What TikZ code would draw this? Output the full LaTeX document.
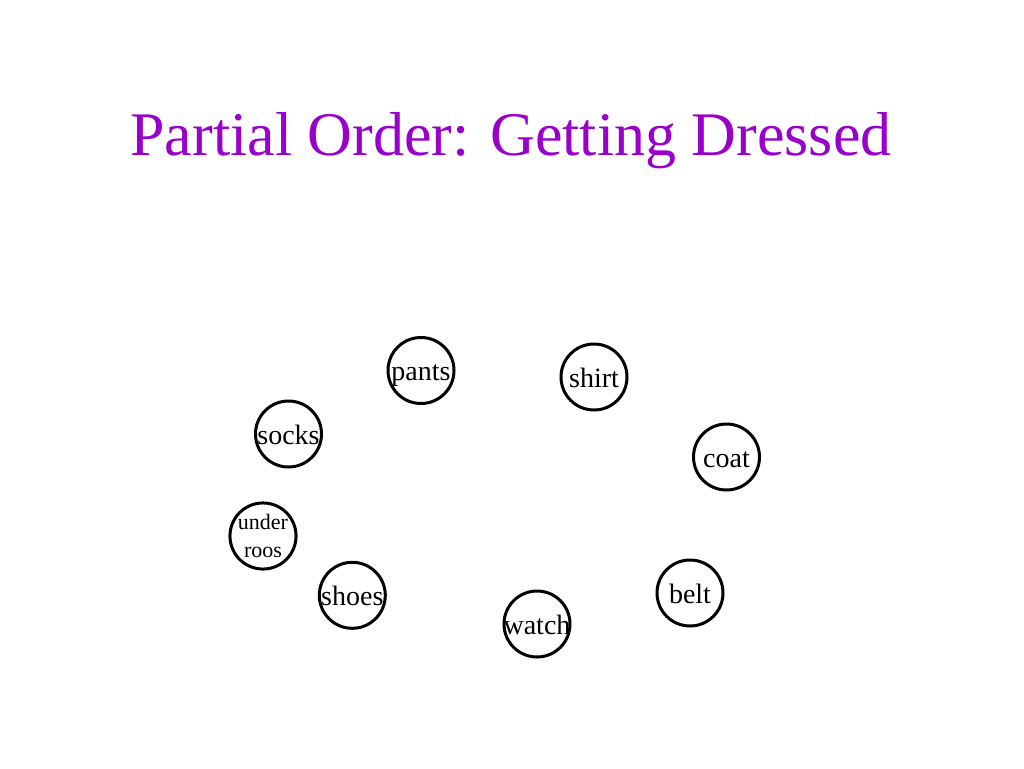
\documentclass[tikz,border=0pt]{standalone}
\usepackage{fontspec}
\setmainfont{Liberation Serif}
\definecolor{titlepurple}{HTML}{9900CC}
\newcommand{\zw}[1]{\makebox[0pt]{#1}}
\begin{document}
\begin{tikzpicture}[x=0.75pt,y=-0.75pt,
  dnode/.style={circle,draw=black,line width=2.25pt,minimum size=49.5pt,inner sep=0pt,
    font=\fontsize{21}{25}\selectfont,text height=15.5pt,text depth=0pt},
  smallnode/.style={circle,draw=black,line width=2.25pt,minimum size=49.5pt,inner sep=0pt,
    font=\fontsize{16.5}{20.8}\selectfont,align=center}]
\useasboundingbox[fill=white] (0,0) rectangle (1024,768);
\node[anchor=base,text=titlepurple,font=\fontsize{46.5}{50}\selectfont,inner sep=0pt] (title) at (511,155) {Partial Order: Getting Dressed};
\node[dnode] (pants) at (421,370.5) {\zw{pants}};
\node[dnode] (shirt) at (594,377) {\zw{shirt}};
\node[dnode] (socks) at (288.5,434) {\zw{socks}};
\node[dnode] (coat) at (726.5,457) {\zw{coat}};
\node[smallnode] (underroos) at (263,536) {under\\roos};
\node[dnode] (belt) at (690,593) {\zw{belt}};
\node[dnode] (shoes) at (352.3,595.3) {\zw{shoes}};
\node[dnode] (watch) at (537,624) {\zw{watch}};
\end{tikzpicture}
\end{document}
